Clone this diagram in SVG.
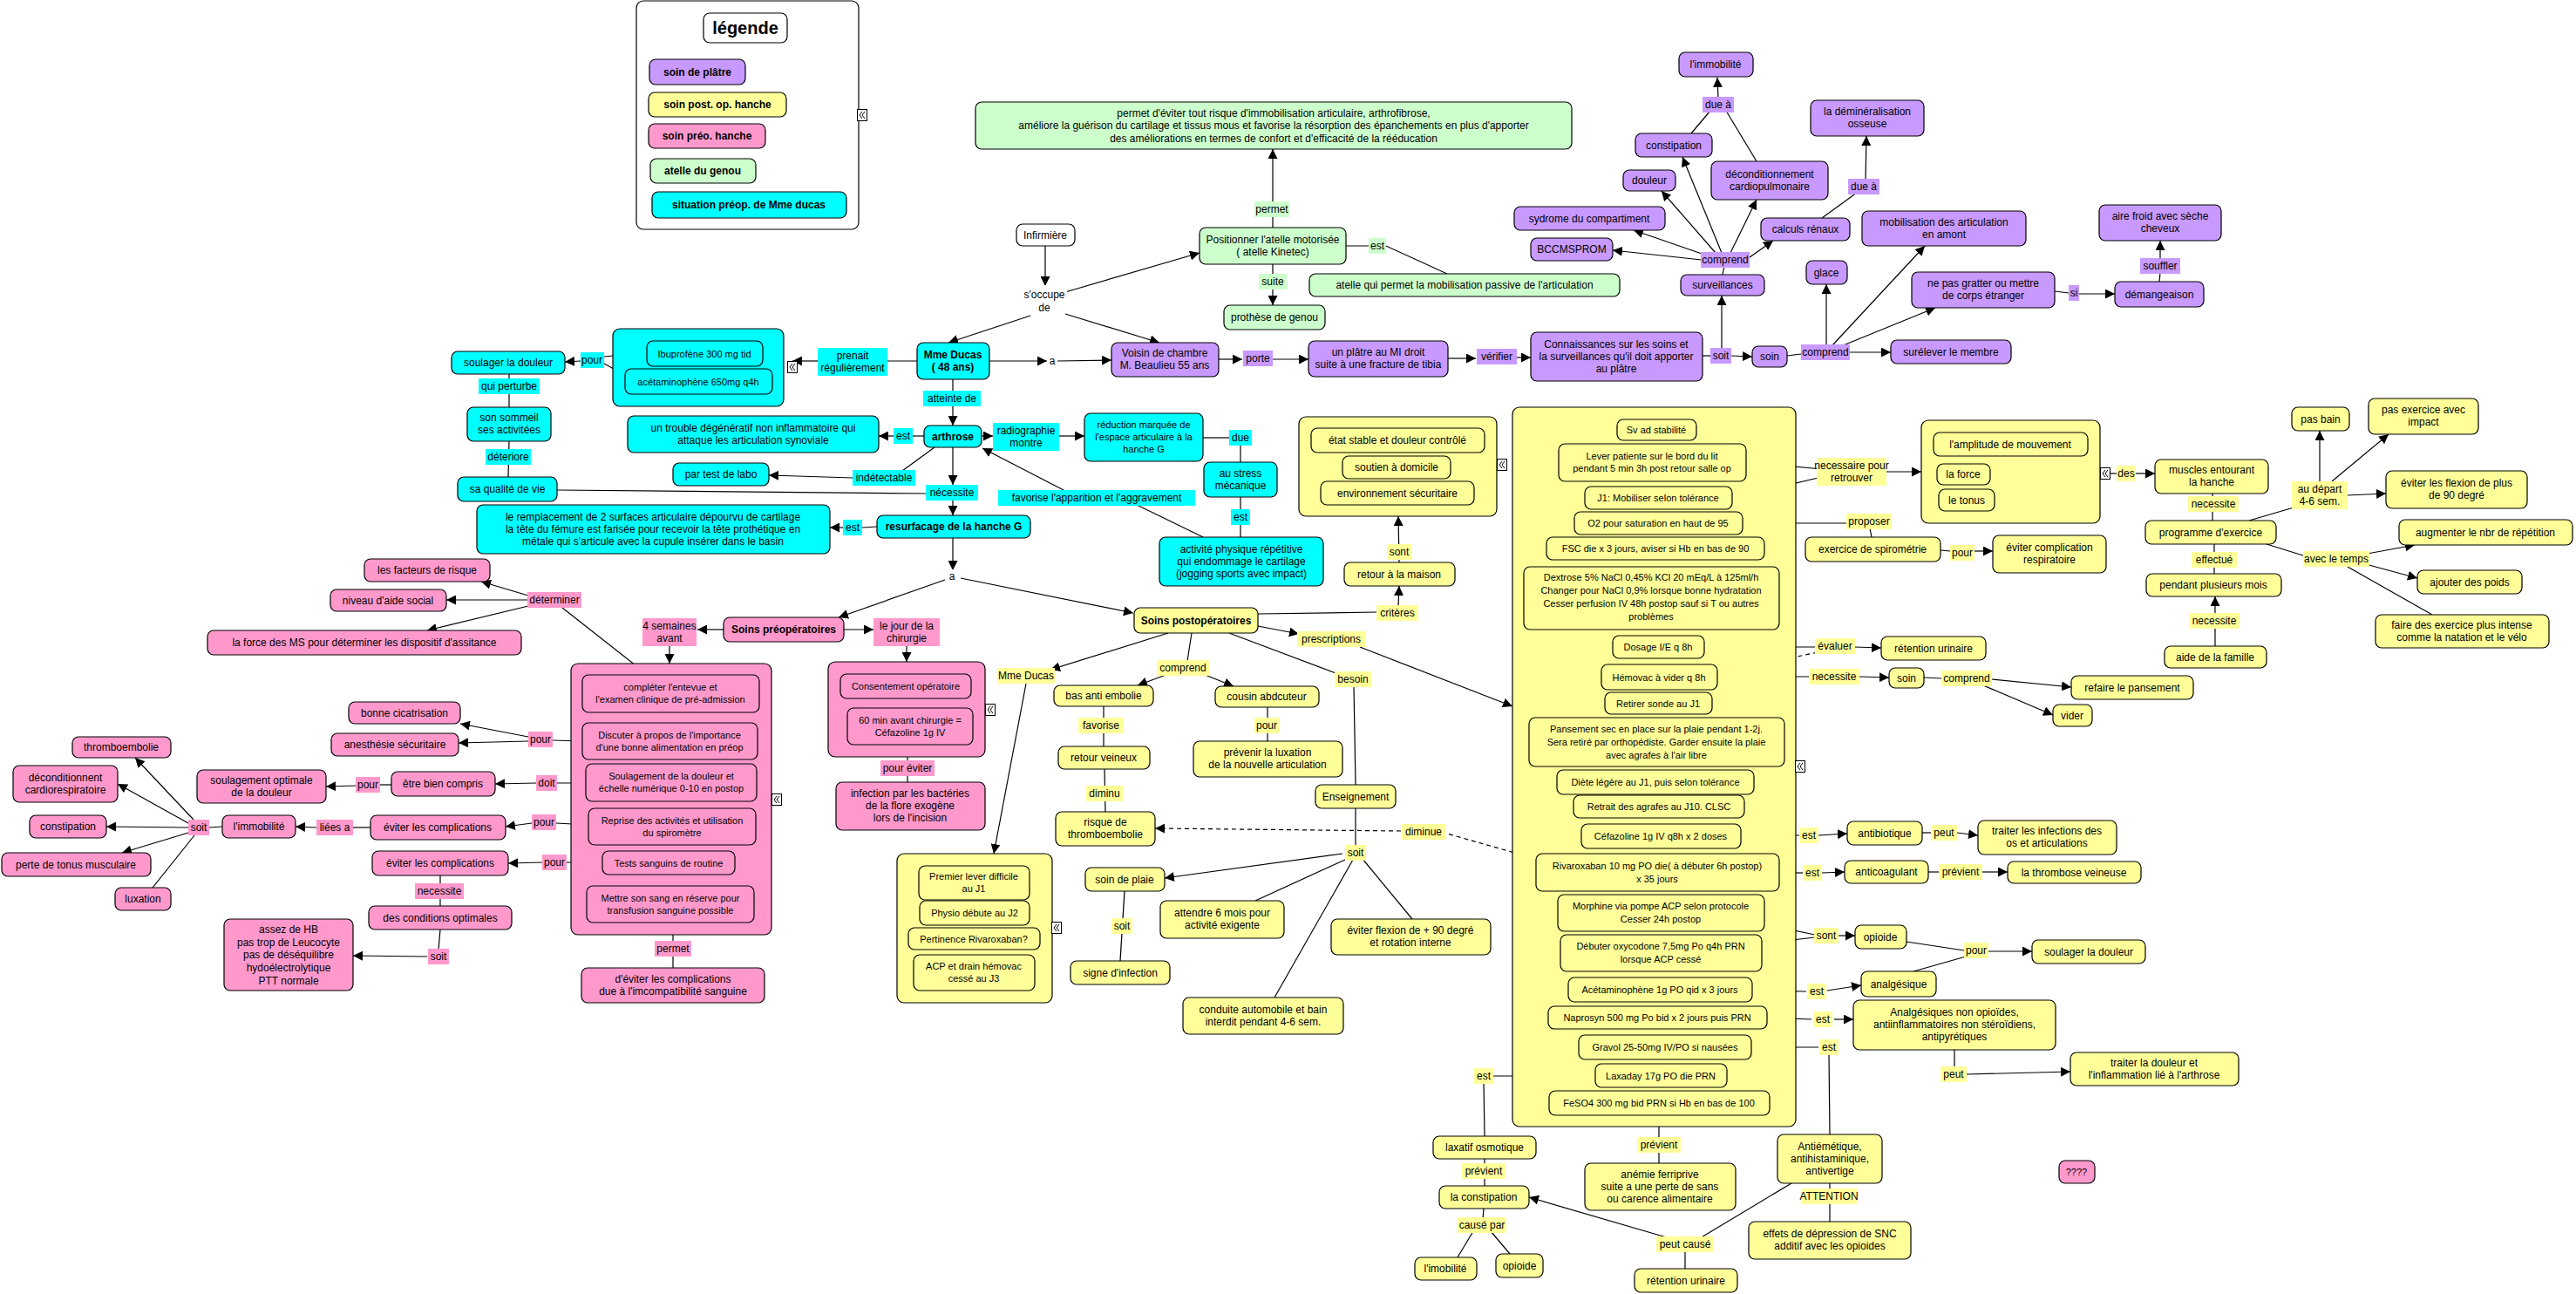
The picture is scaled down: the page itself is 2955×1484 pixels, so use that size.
<svg xmlns="http://www.w3.org/2000/svg" width="2955" height="1484" viewBox="0 0 2955 1484">
<style>
text{font-family:"Liberation Sans",Arial,sans-serif;font-size:12px;text-anchor:middle;fill:#000}
.s{font-size:11px}.b{font-weight:bold}
rect.n{stroke:#000;stroke-width:1.2}
.pu{fill:#C899FF}.ye{fill:#FFFF99}.pk{fill:#FF99CC}.gr{fill:#CCFFCC}.cy{fill:#00FFFF}.wh{fill:#fff}
#conn line,#conn path{stroke:#000;stroke-width:1.2;fill:none}
#conn .a{marker-end:url(#ar)}
#conn .d{stroke-dasharray:5,4}
.lb{font-size:12px}
</style>
<defs>
<marker id="ar" viewBox="0 0 10 10" refX="10" refY="5" markerWidth="11" markerHeight="11" markerUnits="userSpaceOnUse" orient="auto"><path d="M0,0L10,5L0,10z" fill="#000"/></marker>
<symbol id="ic" viewBox="0 0 12 14"><rect x="0.5" y="0.5" width="11" height="13" fill="#fff" stroke="#000"/><path d="M6,3L3,7L6,11M9,3L6,7L9,11" stroke="#000" fill="none"/></symbol>
</defs>
<rect width="2955" height="1484" fill="#fff"/>

<g id="legend">
<rect class="n wh" x="730" y="1" width="255" height="262" rx="8"/>
<rect class="n wh" x="807" y="15" width="96" height="34" rx="7"/><text x="855" y="39" class="b" style="font-size:20px">légende</text>
<rect class="n pu" x="745" y="68" width="110" height="29" rx="7"/><text x="800" y="87" class="b">soin de plâtre</text>
<rect class="n ye" x="744" y="106" width="158" height="28" rx="7"/><text x="823" y="124" class="b">soin post. op. hanche</text>
<rect class="n pk" x="744" y="142" width="134" height="28" rx="7"/><text x="811" y="160" class="b">soin préo. hanche</text>
<rect class="n gr" x="746" y="182" width="121" height="28" rx="7"/><text x="806" y="200" class="b">atelle du genou</text>
<rect class="n cy" x="748" y="220" width="223" height="30" rx="7"/><text x="859" y="239" class="b">situation préop. de Mme ducas</text>
<use href="#ic" x="983" y="125" width="12" height="14"/>
</g>

<g id="conn">
<line class="a" x1="1199" y1="282" x2="1199" y2="328"/>
<line class="a" x1="1182" y1="362" x2="1088" y2="393"/>
<line class="a" x1="1222" y1="360" x2="1330" y2="393"/>
<line class="a" x1="1222" y1="335" x2="1376" y2="290"/>
<line class="a" x1="1460" y1="261" x2="1460" y2="171"/>
<path d="M1544,282H1590L1660,314"/>
<line class="a" x1="1460" y1="303" x2="1460" y2="350"/>
<line class="a" x1="1135" y1="414" x2="1201" y2="414"/>
<line class="a" x1="1213" y1="414" x2="1275" y2="413"/>
<line class="a" x1="1398" y1="412" x2="1425" y2="412"/>
<line class="a" x1="1460" y1="412" x2="1501" y2="412"/>
<line class="a" x1="1661" y1="411" x2="1693" y2="411"/>
<line class="a" x1="1740" y1="410" x2="1756" y2="410"/>
<line x1="1953" y1="408" x2="1962" y2="408"/>
<line class="a" x1="1986" y1="408" x2="2010" y2="409"/>
<line class="a" x1="1975" y1="400" x2="1975" y2="339"/>
<line x1="1976" y1="315" x2="1978" y2="305"/>
<line class="a" x1="1952" y1="298" x2="1850" y2="287"/>
<line class="a" x1="1955" y1="292" x2="1874" y2="264"/>
<line class="a" x1="1968" y1="290" x2="1906" y2="219"/>
<line class="a" x1="1975" y1="290" x2="1930" y2="180"/>
<line class="a" x1="1985" y1="290" x2="2015" y2="229"/>
<line class="a" x1="2000" y1="300" x2="2034" y2="276"/>
<line x1="1940" y1="153" x2="1962" y2="127"/>
<line x1="2015" y1="185" x2="1980" y2="127"/>
<line class="a" x1="1971" y1="112" x2="1970" y2="89"/>
<line x1="2090" y1="250" x2="2130" y2="221"/>
<line class="a" x1="2140" y1="207" x2="2141" y2="156"/>
<line x1="2050" y1="408" x2="2066" y2="406"/>
<line class="a" x1="2122" y1="404" x2="2169" y2="404"/>
<line class="a" x1="2095" y1="396" x2="2095" y2="326"/>
<line class="a" x1="2102" y1="396" x2="2208" y2="282"/>
<line class="a" x1="2112" y1="397" x2="2220" y2="353"/>
<line x1="2357" y1="334" x2="2373" y2="336"/>
<line class="a" x1="2385" y1="337" x2="2426" y2="337"/>
<line x1="2477" y1="323" x2="2478" y2="313"/>
<line class="a" x1="2478" y1="297" x2="2478" y2="276"/>

<line x1="1052" y1="414" x2="1018" y2="414"/>
<line class="a" x1="938" y1="414" x2="909" y2="414"/>
<line x1="742" y1="404" x2="693" y2="409"/>
<line x1="717" y1="430" x2="693" y2="417"/>
<line class="a" x1="666" y1="414" x2="648" y2="415"/>
<line x1="584" y1="429" x2="584" y2="467"/>
<line x1="584" y1="506" x2="583" y2="547"/>
<line x1="639" y1="562" x2="1062" y2="566"/>
<line class="a" x1="1093" y1="435" x2="1093" y2="488"/>
<line x1="1060" y1="500" x2="1047" y2="500"/>
<line class="a" x1="1025" y1="500" x2="1008" y2="500"/>
<line x1="1072" y1="513" x2="1035" y2="540"/>
<line class="a" x1="978" y1="548" x2="882" y2="545"/>
<line class="a" x1="1126" y1="500" x2="1139" y2="500"/>
<line class="a" x1="1215" y1="500" x2="1244" y2="500"/>
<line x1="1380" y1="502" x2="1410" y2="502"/>
<line x1="1423" y1="510" x2="1423" y2="530"/>
<line x1="1423" y1="570" x2="1423" y2="616"/>
<line x1="1380" y1="616" x2="1300" y2="577"/>
<line class="a" x1="1220" y1="562" x2="1127" y2="514"/>
<line class="a" x1="1093" y1="513" x2="1093" y2="556"/>
<line class="a" x1="1093" y1="574" x2="1093" y2="591"/>
<line x1="1006" y1="604" x2="989" y2="605"/>
<line class="a" x1="967" y1="605" x2="952" y2="605"/>
<line class="a" x1="1093" y1="617" x2="1093" y2="654"/>
<line class="a" x1="1084" y1="665" x2="962" y2="708"/>
<line class="a" x1="1102" y1="663" x2="1300" y2="703"/>
<line class="a" x1="830" y1="722" x2="800" y2="722"/>
<line class="a" x1="768" y1="741" x2="768" y2="761"/>
<line class="a" x1="968" y1="722" x2="1002" y2="722"/>
<line class="a" x1="1040" y1="741" x2="1040" y2="759"/>
<line x1="1041" y1="854" x2="1041" y2="897"/>
<line x1="743" y1="774" x2="645" y2="697"/>
<line class="a" x1="606" y1="683" x2="552" y2="667"/>
<line class="a" x1="605" y1="688" x2="512" y2="688"/>
<line class="a" x1="606" y1="695" x2="490" y2="723"/>
<line x1="668" y1="850" x2="634" y2="849"/>
<line class="a" x1="606" y1="845" x2="528" y2="830"/>
<line class="a" x1="606" y1="850" x2="526" y2="852"/>
<line x1="672" y1="898" x2="639" y2="898"/>
<line class="a" x1="615" y1="898" x2="568" y2="899"/>
<line x1="449" y1="900" x2="434" y2="900"/>
<line class="a" x1="410" y1="901" x2="374" y2="902"/>
<line x1="675" y1="946" x2="638" y2="944"/>
<line class="a" x1="610" y1="944" x2="580" y2="948"/>
<line x1="425" y1="949" x2="405" y2="949"/>
<line class="a" x1="363" y1="949" x2="339" y2="948"/>
<line x1="255" y1="948" x2="240" y2="949"/>
<line class="a" x1="222" y1="940" x2="155" y2="869"/>
<line class="a" x1="216" y1="944" x2="135" y2="899"/>
<line class="a" x1="216" y1="949" x2="122" y2="948"/>
<line class="a" x1="216" y1="955" x2="140" y2="978"/>
<line x1="223" y1="958" x2="175" y2="1018"/>
<line x1="691" y1="989" x2="650" y2="989"/>
<line class="a" x1="622" y1="989" x2="583" y2="990"/>
<line x1="505" y1="1004" x2="505" y2="1039"/>
<line x1="505" y1="1066" x2="503" y2="1089"/>
<line class="a" x1="490" y1="1097" x2="405" y2="1096"/>
<line x1="772" y1="1058" x2="772" y2="1110"/>

<line x1="1443" y1="704" x2="1580" y2="702"/>
<line class="a" x1="1604" y1="695" x2="1605" y2="672"/>
<line class="a" x1="1605" y1="645" x2="1604" y2="592"/>
<line class="a" x1="1443" y1="718" x2="1490" y2="727"/>
<line class="a" x1="1560" y1="742" x2="1735" y2="810"/>
<line class="a" x1="1340" y1="726" x2="1205" y2="768"/>
<line class="a" x1="1177" y1="784" x2="1140" y2="979"/>
<line x1="1367" y1="726" x2="1362" y2="758"/>
<line class="a" x1="1340" y1="773" x2="1305" y2="786"/>
<line class="a" x1="1380" y1="773" x2="1415" y2="787"/>
<line x1="1410" y1="726" x2="1535" y2="773"/>
<line x1="1553" y1="786" x2="1555" y2="900"/>
<line x1="1266" y1="810" x2="1266" y2="856"/>
<line x1="1267" y1="882" x2="1268" y2="931"/>
<line x1="1454" y1="811" x2="1454" y2="850"/>
<line x1="1555" y1="927" x2="1555" y2="970"/>
<line class="a" x1="1540" y1="979" x2="1336" y2="1007"/>
<line x1="1545" y1="985" x2="1440" y2="1033"/>
<line x1="1563" y1="985" x2="1620" y2="1054"/>
<line x1="1552" y1="986" x2="1462" y2="1144"/>
<line x1="1290" y1="1022" x2="1285" y2="1102"/>
<line class="d" x1="1762" y1="985" x2="1660" y2="956"/>
<line class="a d" x1="1607" y1="953" x2="1325" y2="950"/>
<line x1="2003" y1="530" x2="2090" y2="538"/>
<line x1="1987" y1="571" x2="2090" y2="547"/>
<line class="a" x1="2160" y1="541" x2="2204" y2="541"/>
<line x1="1999" y1="600" x2="2120" y2="600"/>
<line x1="2145" y1="606" x2="2147" y2="616"/>
<line x1="2226" y1="631" x2="2237" y2="632"/>
<line class="a" x1="2265" y1="632" x2="2286" y2="632"/>
<line x1="2419" y1="543" x2="2428" y2="543"/>
<line class="a" x1="2450" y1="543" x2="2472" y2="543"/>
<line x1="2538" y1="566" x2="2538" y2="597"/>
<line x1="2580" y1="597" x2="2645" y2="578"/>
<line class="a" x1="2661" y1="552" x2="2661" y2="494"/>
<line class="a" x1="2675" y1="552" x2="2740" y2="498"/>
<line class="a" x1="2693" y1="568" x2="2737" y2="566"/>
<line x1="2600" y1="624" x2="2645" y2="638"/>
<line class="a" x1="2710" y1="636" x2="2770" y2="625"/>
<line class="a" x1="2710" y1="646" x2="2773" y2="663"/>
<line x1="2693" y1="650" x2="2790" y2="705"/>
<line x1="2540" y1="624" x2="2540" y2="658"/>
<line class="a" x1="2541" y1="741" x2="2541" y2="684"/>
<line x1="1955" y1="742" x2="2082" y2="742"/>
<line class="a" x1="2128" y1="742" x2="2158" y2="743"/>
<line class="a d" x1="2085" y1="748" x2="1972" y2="772"/>
<line x1="1970" y1="776" x2="2075" y2="776"/>
<line class="a" x1="2133" y1="776" x2="2167" y2="777"/>
<line x1="2207" y1="777" x2="2227" y2="778"/>
<line class="a" x1="2285" y1="779" x2="2376" y2="788"/>
<line class="a" x1="2275" y1="786" x2="2355" y2="820"/>
<line x1="1997" y1="958" x2="2064" y2="958"/>
<line class="a" x1="2086" y1="958" x2="2119" y2="956"/>
<line x1="2205" y1="955" x2="2215" y2="955"/>
<line class="a" x1="2245" y1="955" x2="2269" y2="958"/>
<line x1="2041" y1="1001" x2="2068" y2="1001"/>
<line class="a" x1="2090" y1="1001" x2="2116" y2="1000"/>
<line x1="2212" y1="1000" x2="2224" y2="1000"/>
<line class="a" x1="2274" y1="1000" x2="2303" y2="1000"/>
<line x1="2024" y1="1060" x2="2082" y2="1072"/>
<line x1="2021" y1="1082" x2="2082" y2="1075"/>
<line class="a" x1="2109" y1="1073" x2="2128" y2="1073"/>
<line x1="2187" y1="1080" x2="2253" y2="1090"/>
<line x1="2195" y1="1114" x2="2255" y2="1097"/>
<line class="a" x1="2281" y1="1091" x2="2331" y2="1091"/>
<line x1="2010" y1="1136" x2="2072" y2="1137"/>
<line class="a" x1="2096" y1="1136" x2="2135" y2="1130"/>
<line x1="2027" y1="1167" x2="2078" y2="1169"/>
<line class="a" x1="2104" y1="1169" x2="2126" y2="1169"/>
<line x1="2242" y1="1204" x2="2242" y2="1225"/>
<line class="a" x1="2256" y1="1232" x2="2375" y2="1229"/>
<line x1="2009" y1="1201" x2="2086" y2="1201"/>
<line x1="2098" y1="1209" x2="2099" y2="1301"/>
<line x1="2099" y1="1357" x2="2099" y2="1401"/>
<line x1="2055" y1="1357" x2="1950" y2="1420"/>
<line class="a" x1="1915" y1="1420" x2="1754" y2="1373"/>
<line x1="1933" y1="1435" x2="1933" y2="1455"/>
<line x1="1830" y1="1234" x2="1712" y2="1234"/>
<line x1="1702" y1="1241" x2="1703" y2="1303"/>
<line x1="1703" y1="1329" x2="1703" y2="1360"/>
<line x1="1702" y1="1386" x2="1701" y2="1398"/>
<line x1="1690" y1="1412" x2="1672" y2="1442"/>
<line x1="1710" y1="1412" x2="1732" y2="1438"/>
<line x1="1903" y1="1279" x2="1903" y2="1334"/>

<g class="lb">
<rect class="gr" x="1439" y="231" width="40" height="18"/><text class="lb" x="1459" y="244">permet</text>
<rect class="gr" x="1570" y="273" width="20" height="18"/><text class="lb" x="1580" y="286">est</text>
<rect class="gr" x="1444" y="314" width="32" height="18"/><text class="lb" x="1460" y="327">suite</text>
<rect class="wh" x="1172" y="327" width="52" height="32"/><text class="lb" x="1198" y="342">s'occupe</text><text class="lb" x="1198" y="357">de</text>
<rect class="wh" x="1201" y="406" width="12" height="16"/><text class="lb" x="1207" y="418">a</text>
<rect class="wh" x="1086" y="653" width="12" height="16"/><text class="lb" x="1092" y="665">a</text>
<rect class="pu" x="1426" y="402" width="34" height="18"/><text class="lb" x="1443" y="415">porte</text>
<rect class="pu" x="1694" y="400" width="46" height="18"/><text class="lb" x="1717" y="413">vérifier</text>
<rect class="pu" x="1962" y="399" width="24" height="18"/><text class="lb" x="1974" y="412">soit</text>
<rect class="pu" x="2066" y="395" width="56" height="18"/><text class="lb" x="2094" y="408">comprend</text>
<rect class="pu" x="1951" y="289" width="56" height="18"/><text class="lb" x="1979" y="302">comprend</text>
<rect class="pu" x="1953" y="111" width="36" height="18"/><text class="lb" x="1971" y="124">due à</text>
<rect class="pu" x="2120" y="205" width="36" height="18"/><text class="lb" x="2138" y="218">due à</text>
<rect class="pu" x="2373" y="327" width="12" height="18"/><text class="lb" x="2379" y="340">si</text>
<rect class="pu" x="2455" y="296" width="46" height="18"/><text class="lb" x="2478" y="309">souffler</text>
<rect class="cy" x="938" y="399" width="80" height="32"/><text class="lb" x="978" y="412">prenait</text><text class="lb" x="978" y="426">régulièrement</text>
<rect class="cy" x="666" y="404" width="27" height="18"/><text class="lb" x="679" y="417">pour</text>
<rect class="cy" x="549" y="434" width="70" height="18"/><text class="lb" x="584" y="447">qui perturbe</text>
<rect class="cy" x="557" y="515" width="52" height="18"/><text class="lb" x="583" y="528">déteriore</text>
<rect class="cy" x="1059" y="448" width="66" height="18"/><text class="lb" x="1092" y="461">atteinte de</text>
<rect class="cy" x="1025" y="491" width="22" height="18"/><text class="lb" x="1036" y="504">est</text>
<rect class="cy" x="1139" y="485" width="76" height="32"/><text class="lb" x="1177" y="498">radiographie</text><text class="lb" x="1177" y="512">montre</text>
<rect class="cy" x="1410" y="493" width="26" height="18"/><text class="lb" x="1423" y="506">due</text>
<rect class="cy" x="1412" y="584" width="22" height="18"/><text class="lb" x="1423" y="597">est</text>
<rect class="cy" x="978" y="539" width="72" height="18"/><text class="lb" x="1014" y="552">indétectable</text>
<rect class="cy" x="1062" y="556" width="60" height="18"/><text class="lb" x="1092" y="569">nécessite</text>
<rect class="cy" x="1145" y="562" width="226" height="18"/><text class="lb" x="1258" y="575">favorise l'apparition et l'aggravement</text>
<rect class="cy" x="967" y="596" width="22" height="18"/><text class="lb" x="978" y="609">est</text>
<rect class="pk" x="605" y="679" width="62" height="18"/><text class="lb" x="636" y="692">déterminer</text>
<rect class="pk" x="737" y="709" width="62" height="32"/><text class="lb" x="768" y="722">4 semaines</text><text class="lb" x="768" y="736">avant</text>
<rect class="pk" x="1002" y="709" width="76" height="32"/><text class="lb" x="1040" y="722">le jour de la</text><text class="lb" x="1040" y="736">chirurgie</text>
<rect class="pk" x="606" y="839" width="28" height="18"/><text class="lb" x="620" y="852">pour</text>
<rect class="pk" x="615" y="889" width="24" height="18"/><text class="lb" x="627" y="902">doit</text>
<rect class="pk" x="408" y="891" width="28" height="18"/><text class="lb" x="422" y="904">pour</text>
<rect class="pk" x="610" y="934" width="28" height="18"/><text class="lb" x="624" y="947">pour</text>
<rect class="pk" x="363" y="940" width="42" height="18"/><text class="lb" x="384" y="953">liées a</text>
<rect class="pk" x="216" y="940" width="24" height="18"/><text class="lb" x="228" y="953">soit</text>
<rect class="pk" x="622" y="980" width="28" height="18"/><text class="lb" x="636" y="993">pour</text>
<rect class="pk" x="476" y="1013" width="56" height="18"/><text class="lb" x="504" y="1026">necessite</text>
<rect class="pk" x="491" y="1088" width="24" height="18"/><text class="lb" x="503" y="1101">soit</text>
<rect class="pk" x="751" y="1079" width="42" height="18"/><text class="lb" x="772" y="1092">permet</text>
<rect class="pk" x="1010" y="872" width="62" height="18"/><text class="lb" x="1041" y="885">pour éviter</text>
<rect class="ye" x="1591" y="624" width="28" height="18"/><text class="lb" x="1605" y="637">sont</text>
<rect class="ye" x="1579" y="694" width="48" height="18"/><text class="lb" x="1603" y="707">critères</text>
<rect class="ye" x="1488" y="724" width="78" height="18"/><text class="lb" x="1527" y="737">prescriptions</text>
<rect class="ye" x="1144" y="766" width="66" height="18"/><text class="lb" x="1177" y="779">Mme Ducas</text>
<rect class="ye" x="1327" y="757" width="60" height="18"/><text class="lb" x="1357" y="770">comprend</text>
<rect class="ye" x="1531" y="770" width="42" height="18"/><text class="lb" x="1552" y="783">besoin</text>
<rect class="ye" x="1237" y="823" width="52" height="18"/><text class="lb" x="1263" y="836">favorise</text>
<rect class="ye" x="1439" y="823" width="28" height="18"/><text class="lb" x="1453" y="836">pour</text>
<rect class="ye" x="1246" y="901" width="42" height="18"/><text class="lb" x="1267" y="914">diminu</text>
<rect class="ye" x="1608" y="945" width="50" height="18"/><text class="lb" x="1633" y="958">diminue</text>
<rect class="ye" x="1543" y="969" width="24" height="18"/><text class="lb" x="1555" y="982">soit</text>
<rect class="ye" x="1275" y="1053" width="24" height="18"/><text class="lb" x="1287" y="1066">soit</text>
<rect class="ye" x="2084" y="525" width="80" height="32"/><text class="lb" x="2124" y="538">necessaire pour</text><text class="lb" x="2124" y="552">retrouver</text>
<rect class="ye" x="2118" y="589" width="52" height="18"/><text class="lb" x="2144" y="602">proposer</text>
<rect class="ye" x="2237" y="625" width="28" height="18"/><text class="lb" x="2251" y="638">pour</text>
<rect class="ye" x="2428" y="534" width="22" height="18"/><text class="lb" x="2439" y="547">des</text>
<rect class="ye" x="2510" y="569" width="58" height="18"/><text class="lb" x="2539" y="582">necessite</text>
<rect class="ye" x="2629" y="552" width="64" height="32"/><text class="lb" x="2661" y="565">au départ</text><text class="lb" x="2661" y="579">4-6 sem.</text>
<rect class="ye" x="2642" y="632" width="76" height="18"/><text class="lb" x="2680" y="645">avec le temps</text>
<rect class="ye" x="2514" y="633" width="52" height="18"/><text class="lb" x="2540" y="646">effectué</text>
<rect class="ye" x="2511" y="703" width="58" height="18"/><text class="lb" x="2540" y="716">necessite</text>
<rect class="ye" x="2082" y="732" width="46" height="18"/><text class="lb" x="2105" y="745">évaluer</text>
<rect class="ye" x="2075" y="767" width="58" height="18"/><text class="lb" x="2104" y="780">necessite</text>
<rect class="ye" x="2227" y="769" width="58" height="18"/><text class="lb" x="2256" y="782">comprend</text>
<rect class="ye" x="2064" y="949" width="22" height="18"/><text class="lb" x="2075" y="962">est</text>
<rect class="ye" x="2215" y="946" width="30" height="18"/><text class="lb" x="2230" y="959">peut</text>
<rect class="ye" x="2068" y="992" width="22" height="18"/><text class="lb" x="2079" y="1005">est</text>
<rect class="ye" x="2224" y="991" width="50" height="18"/><text class="lb" x="2249" y="1004">prévient</text>
<rect class="ye" x="2081" y="1064" width="28" height="18"/><text class="lb" x="2095" y="1077">sont</text>
<rect class="ye" x="2253" y="1081" width="28" height="18"/><text class="lb" x="2267" y="1094">pour</text>
<rect class="ye" x="2073" y="1128" width="22" height="18"/><text class="lb" x="2084" y="1141">est</text>
<rect class="ye" x="2080" y="1160" width="22" height="18"/><text class="lb" x="2091" y="1173">est</text>
<rect class="ye" x="2087" y="1192" width="22" height="18"/><text class="lb" x="2098" y="1205">est</text>
<rect class="ye" x="2226" y="1223" width="30" height="18"/><text class="lb" x="2241" y="1236">peut</text>
<rect class="ye" x="1691" y="1225" width="22" height="18"/><text class="lb" x="1702" y="1238">est</text>
<rect class="ye" x="1677" y="1334" width="50" height="18"/><text class="lb" x="1702" y="1347">prévient</text>
<rect class="ye" x="1672" y="1396" width="56" height="18"/><text class="lb" x="1700" y="1409">causé par</text>
<rect class="ye" x="1878" y="1304" width="50" height="18"/><text class="lb" x="1903" y="1317">prévient</text>
<rect class="ye" x="2066" y="1363" width="64" height="18"/><text class="lb" x="2098" y="1376">ATTENTION</text>
<rect class="ye" x="1900" y="1418" width="66" height="18"/><text class="lb" x="1933" y="1431">peut causé</text>
</g>
</g>

<g id="n_permet"><rect class="n gr" x="1119" y="117" width="684" height="54" rx="7"/><text x="1461" y="134">permet d'éviter tout risque d'immobilisation articulaire, arthrofibrose,</text><text x="1461" y="148">améliore la guérison du cartilage et tissus mous et favorise la résorption des épanchements en plus d'apporter</text><text x="1461" y="163">des améliorations en termes de confort et d'efficacité de la rééducation</text></g>
<g id="n_infirmiere"><rect class="n wh" x="1166" y="257" width="67" height="25" rx="7"/><text x="1199" y="274">Infirmière</text></g>
<g id="n_positionner"><rect class="n gr" x="1376" y="261" width="168" height="42" rx="7"/><text x="1460" y="279">Positionner l'atelle motorisée</text><text x="1460" y="293">( atelle Kinetec)</text></g>
<g id="n_atelle"><rect class="n gr" x="1502" y="314" width="356" height="26" rx="7"/><text x="1680" y="331">atelle qui permet la mobilisation passive de l'articulation</text></g>
<g id="n_prothese"><rect class="n gr" x="1404" y="350" width="116" height="28" rx="7"/><text x="1462" y="368">prothèse de genou</text></g>

<g id="n_voisin"><rect class="n pu" x="1275" y="393" width="123" height="39" rx="7"/><text x="1336" y="409">Voisin de chambre</text><text x="1336" y="423">M. Beaulieu 55 ans</text></g>
<g id="n_platre"><rect class="n pu" x="1501" y="391" width="160" height="41" rx="7"/><text x="1581" y="408">un plâtre au MI droit</text><text x="1581" y="422">suite à une fracture de tibia</text></g>
<g id="n_conn"><rect class="n pu" x="1756" y="381" width="197" height="56" rx="7"/><text x="1854" y="399">Connaissances sur les soins et</text><text x="1854" y="413">la surveillances qu'il doit apporter</text><text x="1854" y="427">au plâtre</text></g>
<g id="n_soinp"><rect class="n pu" x="2010" y="397" width="40" height="24" rx="7"/><text x="2030" y="413">soin</text></g>
<g id="n_surv"><rect class="n pu" x="1928" y="315" width="96" height="24" rx="7"/><text x="1976" y="331">surveillances</text></g>
<g id="n_bcc"><rect class="n pu" x="1756" y="273" width="94" height="26" rx="7"/><text x="1803" y="290">BCCMSPROM</text></g>
<g id="n_syd"><rect class="n pu" x="1737" y="237" width="173" height="27" rx="7"/><text x="1823" y="255">sydrome du compartiment</text></g>
<g id="n_doul"><rect class="n pu" x="1862" y="195" width="60" height="24" rx="7"/><text x="1892" y="211">douleur</text></g>
<g id="n_constp"><rect class="n pu" x="1876" y="153" width="88" height="27" rx="7"/><text x="1920" y="171">constipation</text></g>
<g id="n_immp"><rect class="n pu" x="1926" y="60" width="85" height="28" rx="7"/><text x="1968" y="78">l'immobilité</text></g>
<g id="n_decp"><rect class="n pu" x="1963" y="185" width="134" height="44" rx="7"/><text x="2030" y="204">déconditionnement</text><text x="2030" y="218">cardiopulmonaire</text></g>
<g id="n_calc"><rect class="n pu" x="2020" y="250" width="102" height="26" rx="7"/><text x="2071" y="267">calculs rénaux</text></g>
<g id="n_demin"><rect class="n pu" x="2077" y="115" width="130" height="41" rx="7"/><text x="2142" y="132">la déminéralisation</text><text x="2142" y="146">osseuse</text></g>
<g id="n_mobil"><rect class="n pu" x="2136" y="242" width="188" height="40" rx="7"/><text x="2230" y="259">mobilisation des articulation</text><text x="2230" y="273">en amont</text></g>
<g id="n_glace"><rect class="n pu" x="2072" y="299" width="47" height="27" rx="7"/><text x="2095" y="317">glace</text></g>
<g id="n_gratt"><rect class="n pu" x="2193" y="312" width="164" height="41" rx="7"/><text x="2275" y="329">ne pas gratter ou mettre</text><text x="2275" y="343">de corps étranger</text></g>
<g id="n_dem"><rect class="n pu" x="2426" y="323" width="102" height="29" rx="7"/><text x="2477" y="342">démangeaison</text></g>
<g id="n_aire"><rect class="n pu" x="2408" y="235" width="140" height="41" rx="7"/><text x="2478" y="252">aire froid avec sèche</text><text x="2478" y="266">cheveux</text></g>
<g id="n_surel"><rect class="n pu" x="2169" y="390" width="138" height="27" rx="7"/><text x="2238" y="408">surélever le membre</text></g>

<g id="n_ducas"><rect class="n cy" x="1052" y="393" width="83" height="42" rx="7"/><text class="b" x="1093" y="411">Mme Ducas</text><text class="b" x="1093" y="425">( 48 ans)</text></g>
<g id="n_medgroup"><rect class="n cy" x="703" y="377" width="196" height="89" rx="8"/><use href="#ic" x="903" y="414" width="12" height="14"/>
<rect class="n cy" x="742" y="391" width="133" height="29" rx="7"/><text class="s" x="808" y="410">Ibuprofène 300 mg tid</text>
<rect class="n cy" x="717" y="423" width="169" height="29" rx="7"/><text class="s" x="801" y="442">acétaminophène 650mg q4h</text></g>
<g id="n_soulc"><rect class="n cy" x="518" y="403" width="130" height="26" rx="7"/><text x="583" y="420">soulager la douleur</text></g>
<g id="n_somm"><rect class="n cy" x="536" y="467" width="96" height="39" rx="7"/><text x="584" y="483">son sommeil</text><text x="584" y="497">ses activitées</text></g>
<g id="n_qual"><rect class="n cy" x="525" y="547" width="114" height="28" rx="7"/><text x="582" y="565">sa qualité de vie</text></g>
<g id="n_arth"><rect class="n cy" x="1060" y="488" width="66" height="25" rx="7"/><text class="b" x="1093" y="505">arthrose</text></g>
<g id="n_troub"><rect class="n cy" x="720" y="477" width="288" height="42" rx="7"/><text x="864" y="495">un trouble dégénératif non inflammatoire qui</text><text x="864" y="509">attaque les articulation synoviale</text></g>
<g id="n_labo"><rect class="n cy" x="772" y="531" width="110" height="26" rx="7"/><text x="827" y="548">par test de labo</text></g>
<g id="n_reduc"><rect class="n cy" x="1244" y="474" width="136" height="55" rx="7"/><text class="s" x="1312" y="491">réduction marquée de</text><text class="s" x="1312" y="505">l'espace articulaire à la</text><text class="s" x="1312" y="519">hanche G</text></g>
<g id="n_stress"><rect class="n cy" x="1381" y="530" width="84" height="40" rx="7"/><text x="1423" y="547">au stress</text><text x="1423" y="561">mécanique</text></g>
<g id="n_activ"><rect class="n cy" x="1330" y="616" width="188" height="56" rx="7"/><text x="1424" y="634">activité physique répétitive</text><text x="1424" y="648">qui endommage le cartilage</text><text x="1424" y="662">(jogging sports avec impact)</text></g>
<g id="n_resurf"><rect class="n cy" x="1006" y="591" width="176" height="26" rx="7"/><text class="b" x="1094" y="608">resurfacage de la hanche G</text></g>
<g id="n_rempl"><rect class="n cy" x="547" y="579" width="405" height="56" rx="7"/><text x="749" y="597">le remplacement de 2 surfaces articulaire dépourvu de cartilage</text><text x="749" y="611">la tête du fémure est farisée pour recevoir la tête prothétique en</text><text x="749" y="625">métale qui s'articule avec la cupule insérer dans le basin</text></g>

<g id="n_preop"><rect class="n pk" x="830" y="708" width="138" height="28" rx="7"/><text class="b" x="899" y="726">Soins préopératoires</text></g>
<g id="n_preopbox"><rect class="n pk" x="655" y="761" width="230" height="311" rx="8"/><use href="#ic" x="885" y="910" width="12" height="14"/>
<rect class="n pk" x="668" y="774" width="203" height="43" rx="7"/><text class="s" x="769" y="792">compléter l'entevue et</text><text class="s" x="769" y="806">l'examen clinique de pré-admission</text>
<rect class="n pk" x="668" y="829" width="201" height="42" rx="7"/><text class="s" x="768" y="847">Discuter à propos de l'importance</text><text class="s" x="768" y="861">d'une bonne alimentation en préop</text>
<rect class="n pk" x="672" y="876" width="196" height="43" rx="7"/><text class="s" x="770" y="894">Soulagement de la douleur et</text><text class="s" x="770" y="908">échelle numérique 0-10 en postop</text>
<rect class="n pk" x="675" y="927" width="192" height="42" rx="7"/><text class="s" x="771" y="945">Reprise des activités et utilisation</text><text class="s" x="771" y="959">du spiromètre</text>
<rect class="n pk" x="691" y="976" width="152" height="27" rx="7"/><text class="s" x="767" y="994">Tests sanguins de routine</text>
<rect class="n pk" x="673" y="1016" width="192" height="42" rx="7"/><text class="s" x="769" y="1034">Mettre son sang en réserve pour</text><text class="s" x="769" y="1048">transfusion sanguine possible</text></g>
<g id="n_evsang"><rect class="n pk" x="667" y="1110" width="210" height="40" rx="7"/><text x="772" y="1127">d'éviter les complications</text><text x="772" y="1141">due à l'imcompatibilité sanguine</text></g>
<g id="n_fact"><rect class="n pk" x="418" y="641" width="144" height="26" rx="7"/><text x="490" y="658">les facteurs de risque</text></g>
<g id="n_niv"><rect class="n pk" x="379" y="676" width="133" height="25" rx="7"/><text x="445" y="693">niveau d'aide social</text></g>
<g id="n_force"><rect class="n pk" x="238" y="723" width="360" height="28" rx="7"/><text x="418" y="741">la force des MS pour déterminer les dispositif d'assitance</text></g>
<g id="n_bonne"><rect class="n pk" x="400" y="805" width="128" height="25" rx="7"/><text x="464" y="822">bonne cicatrisation</text></g>
<g id="n_anest"><rect class="n pk" x="380" y="841" width="146" height="26" rx="7"/><text x="453" y="858">anesthésie sécuritaire</text></g>
<g id="n_compris"><rect class="n pk" x="449" y="885" width="119" height="28" rx="7"/><text x="508" y="903">être bien compris</text></g>
<g id="n_soulopt"><rect class="n pk" x="226" y="883" width="148" height="38" rx="7"/><text x="300" y="899">soulagement optimale</text><text x="300" y="913">de la douleur</text></g>
<g id="n_evit1"><rect class="n pk" x="425" y="935" width="155" height="28" rx="7"/><text x="502" y="953">éviter les complications</text></g>
<g id="n_immk"><rect class="n pk" x="255" y="935" width="84" height="26" rx="7"/><text x="297" y="952">l'immobilité</text></g>
<g id="n_thromb"><rect class="n pk" x="83" y="845" width="113" height="24" rx="7"/><text x="139" y="861">thromboembolie</text></g>
<g id="n_decc"><rect class="n pk" x="15" y="878" width="120" height="42" rx="7"/><text x="75" y="896">déconditionnent</text><text x="75" y="910">cardiorespiratoire</text></g>
<g id="n_constk"><rect class="n pk" x="34" y="935" width="88" height="26" rx="7"/><text x="78" y="952">constipation</text></g>
<g id="n_perte"><rect class="n pk" x="2" y="978" width="171" height="27" rx="7"/><text x="87" y="996">perte de tonus musculaire</text></g>
<g id="n_lux"><rect class="n pk" x="132" y="1018" width="64" height="26" rx="7"/><text x="164" y="1035">luxation</text></g>
<g id="n_evit2"><rect class="n pk" x="427" y="976" width="156" height="28" rx="7"/><text x="505" y="994">éviter les complications</text></g>
<g id="n_cond"><rect class="n pk" x="423" y="1039" width="164" height="27" rx="7"/><text x="505" y="1057">des conditions optimales</text></g>
<g id="n_assez"><rect class="n pk" x="257" y="1054" width="148" height="82" rx="7"/><text x="331" y="1070">assez de HB</text><text x="331" y="1085">pas trop de Leucocyte</text><text x="331" y="1099">pas de déséquilibre</text><text x="331" y="1114">hydoélectrolytique</text><text x="331" y="1129">PTT normale</text></g>
<g id="n_day"><rect class="n pk" x="950" y="759" width="180" height="109" rx="8"/><use href="#ic" x="1130" y="807" width="12" height="14"/>
<rect class="n pk" x="964" y="773" width="150" height="28" rx="7"/><text class="s" x="1039" y="791">Consentement opératoire</text>
<rect class="n pk" x="972" y="812" width="144" height="42" rx="7"/><text class="s" x="1044" y="830">60 min avant chirurgie =</text><text class="s" x="1044" y="844">Céfazoline 1g IV</text></g>
<g id="n_infect"><rect class="n pk" x="959" y="897" width="171" height="55" rx="7"/><text x="1044" y="914">infection par les bactéries</text><text x="1044" y="928">de la flore exogène</text><text x="1044" y="942">lors de l'incision</text></g>
<g id="n_qq"><rect class="n pk" x="2362" y="1331" width="41" height="26" rx="7"/><text class="s" x="2382" y="1348">????</text></g>

<g id="n_postop"><rect class="n ye" x="1301" y="697" width="142" height="29" rx="7"/><text class="b" x="1372" y="716">Soins postopératoires</text></g>
<g id="n_etat"><rect class="n ye" x="1490" y="478" width="227" height="114" rx="8"/><use href="#ic" x="1717" y="526" width="12" height="14"/>
<rect class="n ye" x="1504" y="491" width="199" height="28" rx="7"/><text x="1603" y="509">état stable et douleur contrôlé</text>
<rect class="n ye" x="1540" y="523" width="124" height="26" rx="7"/><text x="1602" y="540">soutien à domicile</text>
<rect class="n ye" x="1515" y="552" width="176" height="27" rx="7"/><text x="1603" y="570">environnement sécuritaire</text></g>
<g id="n_retmai"><rect class="n ye" x="1542" y="645" width="127" height="27" rx="7"/><text x="1605" y="663">retour à la maison</text></g>
<g id="n_prem"><rect class="n ye" x="1029" y="979" width="178" height="171" rx="8"/><use href="#ic" x="1206" y="1057" width="12" height="14"/>
<rect class="n ye" x="1054" y="993" width="127" height="39" rx="7"/><text class="s" x="1117" y="1009">Premier lever difficile</text><text class="s" x="1117" y="1023">au J1</text>
<rect class="n ye" x="1055" y="1033" width="126" height="28" rx="7"/><text class="s" x="1118" y="1051">Physio débute au J2</text>
<rect class="n ye" x="1042" y="1064" width="151" height="25" rx="7"/><text class="s" x="1117" y="1081">Pertinence Rivaroxaban?</text>
<rect class="n ye" x="1048" y="1095" width="139" height="41" rx="7"/><text class="s" x="1117" y="1112">ACP et drain hémovac</text><text class="s" x="1117" y="1126">cessé au J3</text></g>
<g id="n_bas"><rect class="n ye" x="1209" y="786" width="114" height="24" rx="7"/><text x="1266" y="802">bas anti embolie</text></g>
<g id="n_cousin"><rect class="n ye" x="1394" y="787" width="119" height="24" rx="7"/><text x="1453" y="803">cousin abdcuteur</text></g>
<g id="n_retv"><rect class="n ye" x="1214" y="856" width="105" height="26" rx="7"/><text x="1266" y="873">retour veineux</text></g>
<g id="n_prev"><rect class="n ye" x="1369" y="850" width="171" height="41" rx="7"/><text x="1454" y="867">prévenir la luxation</text><text x="1454" y="881">de la nouvelle articulation</text></g>
<g id="n_risq"><rect class="n ye" x="1211" y="931" width="114" height="39" rx="7"/><text x="1268" y="947">risque de</text><text x="1268" y="961">thromboembolie</text></g>
<g id="n_ens"><rect class="n ye" x="1509" y="900" width="92" height="27" rx="7"/><text x="1555" y="918">Enseignement</text></g>
<g id="n_plaie"><rect class="n ye" x="1245" y="995" width="91" height="27" rx="7"/><text x="1290" y="1013">soin de plaie</text></g>
<g id="n_signe"><rect class="n ye" x="1228" y="1102" width="114" height="27" rx="7"/><text x="1285" y="1120">signe d'infection</text></g>
<g id="n_att"><rect class="n ye" x="1331" y="1033" width="142" height="43" rx="7"/><text x="1402" y="1051">attendre 6 mois pour</text><text x="1402" y="1065">activité exigente</text></g>
<g id="n_evfl"><rect class="n ye" x="1527" y="1054" width="183" height="41" rx="7"/><text x="1618" y="1071">éviter flexion de + 90 degré</text><text x="1618" y="1085">et rotation interne</text></g>
<g id="n_cond2"><rect class="n ye" x="1357" y="1144" width="184" height="42" rx="7"/><text x="1449" y="1162">conduite automobile et bain</text><text x="1449" y="1176">interdit pendant 4-6 sem.</text></g>

<g id="n_bigbox"><rect class="n ye" x="1735" y="467" width="325" height="825" rx="8"/><use href="#ic" x="2059" y="872" width="12" height="14"/>
<rect class="n ye" x="1855" y="481" width="91" height="24" rx="7"/><text class="s" x="1900" y="497">Sv ad stabilité</text>
<rect class="n ye" x="1788" y="509" width="215" height="43" rx="7"/><text class="s" x="1895" y="527">Lever patiente sur le bord du lit</text><text class="s" x="1895" y="541">pendant 5 min 3h post retour salle op</text>
<rect class="n ye" x="1818" y="558" width="169" height="26" rx="7"/><text class="s" x="1902" y="575">J1: Mobiliser selon tolérance</text>
<rect class="n ye" x="1806" y="587" width="193" height="26" rx="7"/><text class="s" x="1902" y="604">O2 pour saturation en haut de 95</text>
<rect class="n ye" x="1774" y="616" width="250" height="26" rx="7"/><text class="s" x="1899" y="633">FSC die x 3 jours, aviser si Hb en bas de 90</text>
<rect class="n ye" x="1748" y="650" width="293" height="72" rx="7"/><text class="s" x="1894" y="666">Dextrose 5% NaCl 0,45% KCl 20 mEq/L à 125ml/h</text><text class="s" x="1894" y="681">Changer pour NaCl 0,9% lorsque bonne hydratation</text><text class="s" x="1894" y="696">Cesser perfusion IV 48h postop sauf si T ou autres</text><text class="s" x="1894" y="711">problèmes</text>
<rect class="n ye" x="1850" y="729" width="105" height="26" rx="7"/><text class="s" x="1902" y="746">Dosage I/E q 8h</text>
<rect class="n ye" x="1837" y="762" width="133" height="29" rx="7"/><text class="s" x="1903" y="781">Hémovac à vider q 8h</text>
<rect class="n ye" x="1841" y="794" width="123" height="25" rx="7"/><text class="s" x="1902" y="811">Retirer sonde au J1</text>
<rect class="n ye" x="1754" y="823" width="293" height="56" rx="7"/><text class="s" x="1900" y="840">Pansement sec en place sur la plaie pendant 1-2j.</text><text class="s" x="1900" y="855">Sera retiré par orthopédiste. Garder ensuite la plaie</text><text class="s" x="1900" y="870">avec agrafes à l'air libre</text>
<rect class="n ye" x="1786" y="883" width="226" height="28" rx="7"/><text class="s" x="1899" y="901">Diète légère au J1, puis selon tolérance</text>
<rect class="n ye" x="1805" y="912" width="196" height="26" rx="7"/><text class="s" x="1903" y="929">Retrait des agrafes au J10. CLSC</text>
<rect class="n ye" x="1814" y="945" width="183" height="28" rx="7"/><text class="s" x="1905" y="963">Céfazoline 1g IV q8h x 2 doses</text>
<rect class="n ye" x="1762" y="979" width="279" height="43" rx="7"/><text class="s" x="1901" y="997">Rivaroxaban 10 mg PO die( à débuter 6h postop)</text><text class="s" x="1901" y="1012">x 35 jours</text>
<rect class="n ye" x="1787" y="1026" width="237" height="42" rx="7"/><text class="s" x="1905" y="1043">Morphine via pompe ACP selon protocole</text><text class="s" x="1905" y="1058">Cesser 24h postop</text>
<rect class="n ye" x="1790" y="1072" width="231" height="42" rx="7"/><text class="s" x="1905" y="1089">Débuter oxycodone 7,5mg Po q4h PRN</text><text class="s" x="1905" y="1104">lorsque ACP cessé</text>
<rect class="n ye" x="1799" y="1121" width="211" height="28" rx="7"/><text class="s" x="1904" y="1139">Acétaminophène 1g PO qid x 3 jours</text>
<rect class="n ye" x="1776" y="1154" width="251" height="26" rx="7"/><text class="s" x="1901" y="1171">Naprosyn 500 mg Po bid x 2 jours puis PRN</text>
<rect class="n ye" x="1811" y="1187" width="198" height="28" rx="7"/><text class="s" x="1910" y="1205">Gravol 25-50mg IV/PO si nausées</text>
<rect class="n ye" x="1830" y="1220" width="151" height="27" rx="7"/><text class="s" x="1905" y="1238">Laxaday 17g PO die PRN</text>
<rect class="n ye" x="1777" y="1251" width="253" height="28" rx="7"/><text class="s" x="1903" y="1269">FeSO4 300 mg bid PRN si Hb en bas de 100</text></g>

<g id="n_ampl"><rect class="n ye" x="2204" y="482" width="205" height="118" rx="8"/><use href="#ic" x="2409" y="536" width="12" height="14"/>
<rect class="n ye" x="2218" y="496" width="177" height="27" rx="7"/><text x="2306" y="514">l'amplitude de mouvement</text>
<rect class="n ye" x="2222" y="532" width="61" height="24" rx="7"/><text x="2252" y="548">la force</text>
<rect class="n ye" x="2224" y="561" width="64" height="25" rx="7"/><text x="2256" y="578">le tonus</text></g>
<g id="n_spiro"><rect class="n ye" x="2071" y="616" width="155" height="28" rx="7"/><text x="2148" y="634">exercice de spirométrie</text></g>
<g id="n_evresp"><rect class="n ye" x="2286" y="614" width="130" height="43" rx="7"/><text x="2351" y="632">éviter complication</text><text x="2351" y="646">respiratoire</text></g>
<g id="n_musc"><rect class="n ye" x="2472" y="527" width="130" height="39" rx="7"/><text x="2537" y="543">muscles entourant</text><text x="2537" y="557">la hanche</text></g>
<g id="n_prog"><rect class="n ye" x="2461" y="597" width="150" height="27" rx="7"/><text x="2536" y="615">programme d'exercice</text></g>
<g id="n_pend"><rect class="n ye" x="2462" y="658" width="155" height="26" rx="7"/><text x="2539" y="675">pendant plusieurs mois</text></g>
<g id="n_aide"><rect class="n ye" x="2483" y="741" width="117" height="25" rx="7"/><text x="2541" y="758">aide de la famille</text></g>
<g id="n_pasbain"><rect class="n ye" x="2629" y="467" width="66" height="27" rx="7"/><text x="2662" y="485">pas bain</text></g>
<g id="n_pasexo"><rect class="n ye" x="2717" y="457" width="126" height="41" rx="7"/><text x="2780" y="474">pas exercice avec</text><text x="2780" y="488">impact</text></g>
<g id="n_evflex"><rect class="n ye" x="2737" y="540" width="162" height="43" rx="7"/><text x="2818" y="558">éviter les flexion de plus</text><text x="2818" y="572">de 90 degré</text></g>
<g id="n_augm"><rect class="n ye" x="2752" y="596" width="199" height="29" rx="7"/><text x="2851" y="615">augmenter le nbr de répétition</text></g>
<g id="n_ajout"><rect class="n ye" x="2773" y="654" width="120" height="27" rx="7"/><text x="2833" y="672">ajouter des poids</text></g>
<g id="n_faire"><rect class="n ye" x="2725" y="705" width="199" height="38" rx="7"/><text x="2824" y="721">faire des exercice plus intense</text><text x="2824" y="735">comme la natation et le vélo</text></g>
<g id="n_ret1"><rect class="n ye" x="2158" y="730" width="120" height="27" rx="7"/><text x="2218" y="748">rétention urinaire</text></g>
<g id="n_soiny"><rect class="n ye" x="2167" y="766" width="40" height="23" rx="7"/><text x="2187" y="782">soin</text></g>
<g id="n_refaire"><rect class="n ye" x="2376" y="775" width="140" height="27" rx="7"/><text x="2446" y="793">refaire le pansement</text></g>
<g id="n_vider"><rect class="n ye" x="2355" y="808" width="45" height="25" rx="7"/><text x="2377" y="825">vider</text></g>
<g id="n_antib"><rect class="n ye" x="2119" y="942" width="86" height="27" rx="7"/><text x="2162" y="960">antibiotique</text></g>
<g id="n_trinf"><rect class="n ye" x="2269" y="941" width="159" height="39" rx="7"/><text x="2348" y="957">traiter les infections des</text><text x="2348" y="971">os et articulations</text></g>
<g id="n_antic"><rect class="n ye" x="2116" y="987" width="96" height="26" rx="7"/><text x="2164" y="1004">anticoagulant</text></g>
<g id="n_thromv"><rect class="n ye" x="2303" y="988" width="153" height="25" rx="7"/><text x="2379" y="1005">la thrombose veineuse</text></g>
<g id="n_opior"><rect class="n ye" x="2128" y="1061" width="59" height="27" rx="7"/><text x="2157" y="1079">opioide</text></g>
<g id="n_soulay"><rect class="n ye" x="2331" y="1078" width="130" height="27" rx="7"/><text x="2396" y="1096">soulager la douleur</text></g>
<g id="n_analg"><rect class="n ye" x="2135" y="1114" width="86" height="29" rx="7"/><text x="2178" y="1133">analgésique</text></g>
<g id="n_analgn"><rect class="n ye" x="2126" y="1147" width="232" height="57" rx="7"/><text x="2242" y="1165">Analgésiques non opioïdes,</text><text x="2242" y="1179">antiinflammatoires non stéroïdiens,</text><text x="2242" y="1193">antipyrétiques</text></g>
<g id="n_trdl"><rect class="n ye" x="2375" y="1207" width="193" height="38" rx="7"/><text x="2471" y="1223">traiter la douleur et</text><text x="2471" y="1237">l'inflammation lié à l'arthrose</text></g>
<g id="n_laxo"><rect class="n ye" x="1644" y="1303" width="118" height="26" rx="7"/><text x="1703" y="1320">laxatif osmotique</text></g>
<g id="n_consty"><rect class="n ye" x="1651" y="1360" width="103" height="26" rx="7"/><text x="1702" y="1377">la constipation</text></g>
<g id="n_imob"><rect class="n ye" x="1623" y="1442" width="71" height="26" rx="7"/><text x="1658" y="1459">l'imobilité</text></g>
<g id="n_opib"><rect class="n ye" x="1716" y="1438" width="54" height="27" rx="7"/><text x="1743" y="1456">opioide</text></g>
<g id="n_anem"><rect class="n ye" x="1818" y="1334" width="173" height="54" rx="7"/><text x="1904" y="1351">anémie ferriprive</text><text x="1904" y="1365">suite a une perte de sans</text><text x="1904" y="1379">ou carence alimentaire</text></g>
<g id="n_antiem"><rect class="n ye" x="2039" y="1301" width="120" height="56" rx="7"/><text x="2099" y="1319">Antiémétique,</text><text x="2099" y="1333">antihistaminique,</text><text x="2099" y="1347">antivertige</text></g>
<g id="n_effets"><rect class="n ye" x="2006" y="1401" width="186" height="43" rx="7"/><text x="2099" y="1419">effets de dépression de SNC</text><text x="2099" y="1433">additif avec les opioides</text></g>
<g id="n_ret2"><rect class="n ye" x="1875" y="1455" width="118" height="27" rx="7"/><text x="1934" y="1473">rétention urinaire</text></g>
</svg>
